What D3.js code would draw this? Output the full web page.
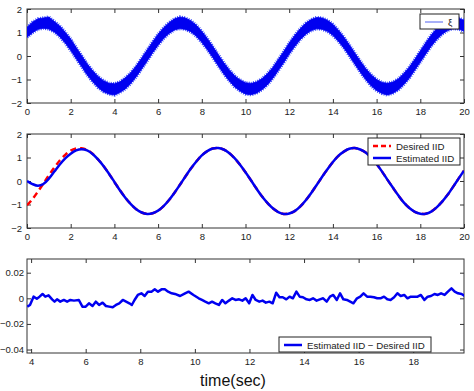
<!DOCTYPE html>
<html>
<head>
<meta charset="utf-8">
<title>IID estimation</title>
<script src="https://d3js.org/d3.v7.min.js"></script>
<style>
  body { margin: 0; background: #fff; }
  text { font-family: "Liberation Sans", Arial, sans-serif; }
</style>
</head>
<body>
<svg width="474" height="391"></svg>
<script>
// ---- data ----
// panel 1: noisy signal xi, upper / lower edge of the band, every 0.25 s
const xiT = d3.range(0, 20.001, 0.25);
const xiHi = [1.22,1.44,1.58,1.62,1.66,1.47,1.28,1.01,0.72,0.36,0.02,-0.33,-0.62,-0.87,-1.05,-1.16,-1.18,-1.10,-0.93,-0.71,-0.42,-0.09,0.26,0.60,0.93,1.20,1.42,1.58,1.66,1.62,1.50,1.31,1.05,0.75,0.41,0.06,-0.28,-0.58,-0.84,-1.02,-1.14,-1.17,-1.11,-0.97,-0.76,-0.49,-0.15,0.19,0.55,0.87,1.16,1.39,1.55,1.64,1.62,1.52,1.35,1.10,0.81,0.48,0.13,-0.21,-0.53,-0.80,-1.00,-1.13,-1.16,-1.11,-0.97,-0.74,-0.47,-0.14,0.21,0.56,0.89,1.17,1.40,1.56,1.63,1.61,1.52];
const xiLo = [0.80,0.99,1.14,1.18,1.15,1.02,0.82,0.55,0.24,-0.11,-0.45,-0.80,-1.09,-1.34,-1.52,-1.62,-1.66,-1.55,-1.40,-1.17,-0.88,-0.55,-0.21,0.14,0.46,0.74,0.96,1.11,1.17,1.13,1.03,0.84,0.58,0.28,-0.06,-0.41,-0.75,-1.05,-1.31,-1.49,-1.62,-1.65,-1.58,-1.44,-1.23,-0.95,-0.62,-0.28,0.08,0.40,0.69,0.92,1.08,1.16,1.14,1.05,0.88,0.63,0.34,0.01,-0.34,-0.68,-1.00,-1.27,-1.47,-1.60,-1.66,-1.58,-1.44,-1.21,-0.94,-0.60,-0.26,0.09,0.42,0.70,0.93,1.09,1.16,1.15,1.06];

// panel 2: desired and estimated IID, every 0.25 s
const iidT = d3.range(0, 20.001, 0.25);
const desired = [-1.03,-0.77,-0.45,-0.11,0.24,0.57,0.87,1.11,1.29,1.38,1.39,1.32,1.16,0.92,0.64,0.31,-0.04,-0.39,-0.71,-0.98,-1.20,-1.34,-1.40,-1.37,-1.26,-1.07,-0.81,-0.50,-0.16,0.19,0.53,0.83,1.09,1.27,1.38,1.40,1.34,1.19,0.97,0.69,0.37,0.03,-0.32,-0.65,-0.93,-1.16,-1.32,-1.40,-1.38,-1.28,-1.09,-0.83,-0.52,-0.18,0.17,0.50,0.81,1.07,1.25,1.37,1.40,1.34,1.21,0.99,0.72,0.40,0.05,-0.29,-0.62,-0.92,-1.15,-1.31,-1.39,-1.39,-1.30,-1.12,-0.88,-0.59,-0.25,0.10,0.44];
const estimated = [0.00,-0.13,-0.20,-0.13,0.10,0.40,0.70,0.96,1.16,1.30,1.35,1.30,1.15,0.92,0.64,0.31,-0.04,-0.39,-0.71,-0.98,-1.20,-1.34,-1.40,-1.37,-1.26,-1.07,-0.81,-0.50,-0.16,0.19,0.53,0.83,1.09,1.27,1.38,1.40,1.34,1.19,0.97,0.69,0.37,0.03,-0.32,-0.65,-0.93,-1.16,-1.32,-1.40,-1.38,-1.28,-1.09,-0.83,-0.52,-0.18,0.17,0.50,0.81,1.07,1.25,1.37,1.40,1.34,1.21,0.99,0.72,0.40,0.05,-0.29,-0.62,-0.92,-1.15,-1.31,-1.39,-1.39,-1.30,-1.12,-0.88,-0.59,-0.25,0.10,0.44];

// panel 3: estimated - desired
const errT = [3.86,3.96,4.09,4.21,4.31,4.42,4.52,4.64,4.77,4.86,4.95,5.07,5.20,5.32,5.44,5.57,5.75,5.88,6.00,6.12,6.25,6.37,6.49,6.62,6.74,6.86,6.99,7.11,7.23,7.36,7.48,7.60,7.69,7.79,7.91,8.04,8.16,8.28,8.41,8.53,8.65,8.78,8.90,9.02,9.15,9.27,9.46,9.64,9.77,9.95,10.14,10.26,10.38,10.51,10.63,10.75,10.88,11.00,11.12,11.25,11.37,11.49,11.62,11.74,11.86,11.99,12.11,12.23,12.36,12.48,12.60,12.73,12.85,12.98,13.10,13.22,13.35,13.47,13.59,13.72,13.84,13.96,14.09,14.21,14.33,14.46,14.58,14.70,14.83,14.95,15.07,15.20,15.32,15.44,15.57,15.69,15.81,15.94,16.06,16.18,16.31,16.43,16.56,16.68,16.80,16.93,17.05,17.17,17.30,17.42,17.54,17.67,17.79,17.91,18.04,18.16,18.28,18.41,18.53,18.65,18.78,18.90,19.02,19.15,19.27,19.40,19.52,19.64,19.77,19.89];
const errV = [-0.0065,-0.0052,0.0013,-0.0003,0.0013,0.0034,0.0013,0.0023,-0.0008,-0.0026,-0.0008,-0.0026,-0.0013,-0.0026,-0.0013,-0.0018,-0.0013,-0.0065,-0.0065,-0.0039,-0.0060,-0.0026,-0.0052,-0.0034,-0.0060,-0.0065,-0.0070,-0.0052,-0.0039,-0.0013,-0.0026,-0.0039,-0.0052,-0.0013,0.0026,0.0039,0.0018,0.0052,0.0052,0.0070,0.0052,0.0070,0.0070,0.0052,0.0039,0.0034,0.0018,0.0039,0.0052,0.0026,0.0000,-0.0013,-0.0026,-0.0039,-0.0026,-0.0039,-0.0052,-0.0013,-0.0039,-0.0018,0.0000,-0.0013,-0.0008,-0.0018,0.0000,-0.0039,0.0026,-0.0013,-0.0026,-0.0018,-0.0034,-0.0026,-0.0039,0.0044,0.0008,0.0008,-0.0008,0.0013,0.0000,0.0052,0.0013,0.0008,-0.0008,-0.0013,0.0000,-0.0018,-0.0008,0.0000,-0.0026,0.0013,0.0026,-0.0013,0.0039,-0.0008,-0.0013,-0.0026,-0.0039,0.0000,0.0013,0.0039,0.0013,0.0013,0.0008,0.0000,0.0000,0.0013,-0.0008,-0.0013,0.0008,0.0039,0.0018,0.0026,0.0000,0.0013,0.0013,0.0013,0.0026,-0.0013,0.0013,0.0018,0.0034,0.0026,0.0039,0.0026,0.0052,0.0078,0.0052,0.0039,0.0034,0.0018];

// tick labels
const ticks12 = [0, 2, 4, 6, 8, 10, 12, 14, 16, 18, 20];
const yTicks12 = [-2, -1, 0, 1, 2];
const ticks3 = [4, 6, 8, 10, 12, 14, 16, 18];
const yTicks3 = [-0.04, -0.02, 0, 0.02];

const BLUE = "#0000f0", RED = "#ff0000";
const svg = d3.select("svg");
const left = 27, right = 464;

function panel(id, top, bottom, xDom, yDom, xt, yt, yfmt, ypad) {
  const x = d3.scaleLinear().domain(xDom).range([left, right]);
  const y = d3.scaleLinear().domain(yDom).range([bottom, top]);
  const g = svg.append("g");
  g.append("clipPath").attr("id", id).append("rect")
    .attr("x", left).attr("y", top).attr("width", right - left).attr("height", bottom - top);
  const fmt = d => yfmt(d).replace("-", "\u2212");
  g.append("g").attr("transform", `translate(0,${bottom})`)
    .call(d3.axisBottom(x).tickValues(xt).tickFormat(d3.format("d")).tickSizeInner(-4).tickSizeOuter(0).tickPadding(5))
    .call(s => s.select(".domain").remove());
  g.append("g").attr("transform", `translate(0,${top})`)
    .call(d3.axisTop(x).tickValues(xt).tickFormat("").tickSizeInner(-4).tickSizeOuter(0))
    .call(s => s.select(".domain").remove());
  g.append("g").attr("transform", `translate(${left},0)`)
    .call(d3.axisLeft(y).tickValues(yt).tickFormat(fmt).tickSizeInner(-4).tickSizeOuter(0).tickPadding(ypad))
    .call(s => s.select(".domain").remove());
  g.append("g").attr("transform", `translate(${right},0)`)
    .call(d3.axisRight(y).tickValues(yt).tickFormat("").tickSizeInner(-4).tickSizeOuter(0))
    .call(s => s.select(".domain").remove());
  g.selectAll(".tick line").attr("stroke", "#333");
  g.selectAll(".tick text").attr("font-size", 9.5).attr("fill", "#222")
    .attr("font-family", "Liberation Sans, Arial, sans-serif");
  g.append("rect").attr("x", left).attr("y", top).attr("width", right - left).attr("height", bottom - top)
    .attr("fill", "none").attr("stroke", "#333").attr("stroke-width", 1);
  const plot = g.append("g").attr("clip-path", `url(#${id})`);
  return {x, y, g, plot};
}

function legend(g, x0, y0, w, rows) {
  const h = rows.length * 12 + 3;
  g.append("rect").attr("x", x0).attr("y", y0).attr("width", w).attr("height", h)
    .attr("fill", "#fff").attr("stroke", "#222").attr("stroke-width", 1);
  rows.forEach((r, i) => {
    const yy = y0 + 8 + i * 12;
    g.append("line").attr("x1", x0 + 5).attr("x2", x0 + 23).attr("y1", yy).attr("y2", yy)
      .attr("stroke", r.color).attr("stroke-width", r.width).attr("stroke-dasharray", r.dash || null);
    g.append("text").attr("x", x0 + 28).attr("y", yy + 3.5).attr("font-size", 9.7)
      .attr("fill", "#222").text(r.label);
  });
}

// ---- panel 1 ----
const p1 = panel("c1", 9, 103, [0, 20], [-2, 2], ticks12, yTicks12, d3.format("d"), 5);
const band = d3.area().x(t => p1.x(t)).y0((t, i) => p1.y(xiLo[i])).y1((t, i) => p1.y(xiHi[i]));
// fuzzy edge of the noisy band
p1.plot.append("path").datum(xiT).attr("d", band)
  .attr("fill", "none").attr("stroke", "#3a4cff").attr("stroke-width", 3.2).attr("stroke-dasharray", "1,1.3");
p1.plot.append("path").datum(xiT).attr("d", band)
  .attr("fill", BLUE).attr("stroke", BLUE).attr("stroke-width", 0.8);
legend(p1.g, 420, 14, 39, [{label: "\u03be", color: "#5060f0", width: 1}]);

// ---- panel 2 ----
const p2 = panel("c2", 134, 228, [0, 20], [-2, 2], ticks12, yTicks12, d3.format("d"), 5);
const line2 = arr => d3.line().x(t => p2.x(t)).y((t, i) => p2.y(arr[i])).curve(d3.curveCardinal);
p2.plot.append("path").datum(iidT).attr("d", line2(desired))
  .attr("fill", "none").attr("stroke", RED).attr("stroke-width", 2.5).attr("stroke-dasharray", "6,4");
p2.plot.append("path").datum(iidT).attr("d", line2(estimated))
  .attr("fill", "none").attr("stroke", BLUE).attr("stroke-width", 2.5);
legend(p2.g, 368, 138, 92, [
  {label: "Desired IID", color: RED, width: 2.5, dash: "5,3"},
  {label: "Estimated IID", color: BLUE, width: 2.5}
]);

// ---- panel 3 ----
const p3 = panel("c3", 259, 353, [3.85, 19.86], [-0.0427, 0.0307], ticks3, yTicks3,
  d => d === 0 ? "0" : d3.format(".2f")(d), 3);
p3.plot.append("path").datum(errT)
  .attr("d", d3.line().x(t => p3.x(t)).y((t, i) => p3.y(errV[i])))
  .attr("fill", "none").attr("stroke", BLUE).attr("stroke-width", 2.5).attr("stroke-linejoin", "round");
legend(p3.g, 279, 337, 152, [{label: "Estimated IID \u2212 Desired IID", color: BLUE, width: 2.5}]);

svg.append("text").attr("x", 233).attr("y", 386).attr("text-anchor", "middle")
  .attr("font-size", 16).attr("fill", "#111").text("time(sec)");
</script>
</body>
</html>
